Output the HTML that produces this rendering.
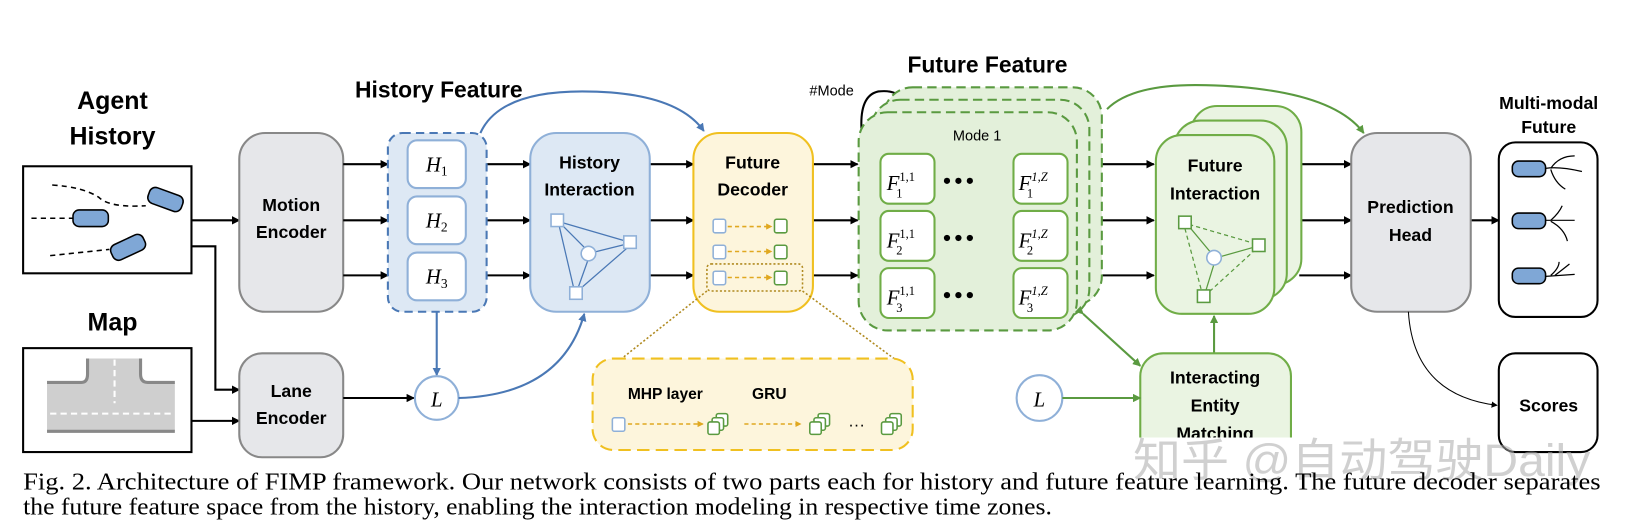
<!DOCTYPE html>
<html><head><meta charset="utf-8"><style>
html,body{margin:0;padding:0;background:#fff;}
svg{display:block}
.b{font-family:"Liberation Sans",sans-serif;font-weight:bold;}
.s{font-family:"Liberation Serif",serif;font-style:italic;}
</style></head><body>
<svg width="1630" height="530" viewBox="0 0 1568 510" xmlns="http://www.w3.org/2000/svg">
<defs>
<marker id="ak" markerWidth="8" markerHeight="8" refX="7" refY="4" orient="auto" markerUnits="userSpaceOnUse"><path d="M0,0 L8,4 L0,8z" fill="#000"/></marker>
<marker id="ab" markerWidth="8" markerHeight="8" refX="7" refY="4" orient="auto" markerUnits="userSpaceOnUse"><path d="M0,0 L8,4 L0,8z" fill="#4a78b5"/></marker>
<marker id="ag" markerWidth="8" markerHeight="8" refX="7" refY="4" orient="auto" markerUnits="userSpaceOnUse"><path d="M0,0 L8,4 L0,8z" fill="#5a9a40"/></marker>
<marker id="ao" markerWidth="6" markerHeight="6" refX="5" refY="3" orient="auto" markerUnits="userSpaceOnUse"><path d="M0,0 L6,3 L0,6z" fill="#e0a820"/></marker>
<marker id="as" markerWidth="6" markerHeight="6" refX="5" refY="3" orient="auto" markerUnits="userSpaceOnUse"><path d="M0,0 L6,3 L0,6z" fill="#000"/></marker>
</defs>

<text class="b" x="108" y="105" font-size="24" text-anchor="middle">Agent</text>
<text class="b" x="108" y="139" font-size="24" text-anchor="middle">History</text>
<rect x="22" y="160" width="162" height="103" fill="#fff" stroke="#000" stroke-width="2"/>
<path d="M50,178 Q80,180 95,190 Q105,200 140,198" fill="none" stroke="#000" stroke-width="1.5" stroke-dasharray="5,4"/>
<path d="M30,210 L70,210" stroke="#000" stroke-width="1.5" stroke-dasharray="5,4"/>
<path d="M48,246 L105,240" stroke="#000" stroke-width="1.5" stroke-dasharray="5,4"/>
<rect x="70" y="202" width="34" height="16" rx="6" fill="#7fa7d6" stroke="#000" stroke-width="1.5"/>
<rect x="142" y="184" width="34" height="16" rx="6" fill="#7fa7d6" stroke="#000" stroke-width="1.5" transform="rotate(20 159 192)"/>
<rect x="106" y="230" width="34" height="16" rx="6" fill="#7fa7d6" stroke="#000" stroke-width="1.5" transform="rotate(-25 123 238)"/>

<text class="b" x="108" y="318" font-size="24" text-anchor="middle">Map</text>
<rect x="22" y="335" width="162" height="100" fill="#fff" stroke="#000" stroke-width="2"/>
<path d="M45,368 L78,368 Q84,368 84,360 L84,345 L135,345 L135,360 Q135,368 142,368 L168,368 L168,415 L45,415z" fill="#cfcfcf"/>
<path d="M45,368 L78,368 Q84,368 84,360 L84,345 M135,345 L135,360 Q135,368 142,368 L168,368 M45,415 L168,415" fill="none" stroke="#888" stroke-width="3"/>
<path d="M110,346 L110,388 M48,398 L168,398" stroke="#fff" stroke-width="2" stroke-dasharray="6,4"/>

<line x1="184" y1="212" x2="230" y2="212" stroke="#000" stroke-width="2" marker-end="url(#ak)"/>
<path d="M184,237 L207,237 L207,375 L230,375" fill="none" stroke="#000" stroke-width="2" marker-end="url(#ak)"/>
<line x1="184" y1="405" x2="230" y2="405" stroke="#000" stroke-width="2" marker-end="url(#ak)"/>

<rect x="230" y="128" width="100" height="172" rx="25" fill="#e6e7ea" stroke="#888" stroke-width="2"/>
<text class="b" x="280" y="203" font-size="17" text-anchor="middle">Motion</text>
<text class="b" x="280" y="229" font-size="17" text-anchor="middle">Encoder</text>
<rect x="230" y="340" width="100" height="100" rx="22" fill="#e6e7ea" stroke="#888" stroke-width="2"/>
<text class="b" x="280" y="382" font-size="17" text-anchor="middle">Lane</text>
<text class="b" x="280" y="408" font-size="17" text-anchor="middle">Encoder</text>

<g stroke="#000" stroke-width="2">
<line x1="330" y1="158" x2="373" y2="158" marker-end="url(#ak)"/>
<line x1="330" y1="212" x2="373" y2="212" marker-end="url(#ak)"/>
<line x1="330" y1="265" x2="373" y2="265" marker-end="url(#ak)"/>
<line x1="330" y1="383" x2="398" y2="383" marker-end="url(#ak)"/>
<line x1="468" y1="158" x2="510" y2="158" marker-end="url(#ak)"/>
<line x1="468" y1="212" x2="510" y2="212" marker-end="url(#ak)"/>
<line x1="468" y1="265" x2="510" y2="265" marker-end="url(#ak)"/>
<line x1="625" y1="158" x2="667" y2="158" marker-end="url(#ak)"/>
<line x1="625" y1="212" x2="667" y2="212" marker-end="url(#ak)"/>
<line x1="625" y1="265" x2="667" y2="265" marker-end="url(#ak)"/>
<line x1="782" y1="158" x2="825" y2="158" marker-end="url(#ak)"/>
<line x1="782" y1="212" x2="825" y2="212" marker-end="url(#ak)"/>
<line x1="782" y1="265" x2="825" y2="265" marker-end="url(#ak)"/>
<line x1="1060" y1="158" x2="1110" y2="158" marker-end="url(#ak)"/>
<line x1="1060" y1="212" x2="1110" y2="212" marker-end="url(#ak)"/>
<line x1="1060" y1="265" x2="1110" y2="265" marker-end="url(#ak)"/>
<line x1="1250" y1="158" x2="1300" y2="158" marker-end="url(#ak)"/>
<line x1="1250" y1="212" x2="1300" y2="212" marker-end="url(#ak)"/>
<line x1="1250" y1="265" x2="1300" y2="265" marker-end="url(#ak)"/>
<line x1="1415" y1="212" x2="1442" y2="212" marker-end="url(#ak)"/>
</g>

<text class="b" x="422" y="94" font-size="22" text-anchor="middle">History Feature</text>
<path d="M462,128 Q480,88 560,88 Q650,88 677,126" fill="none" stroke="#4a78b5" stroke-width="2" marker-end="url(#ab)"/>
<rect x="373" y="128" width="95" height="172" rx="14" fill="#dde8f4" stroke="#4a78b5" stroke-width="2" stroke-dasharray="8,5"/>
<g fill="#fff" stroke="#8fb0d8" stroke-width="2">
<rect x="392" y="135" width="56" height="46" rx="9"/>
<rect x="392" y="189" width="56" height="46" rx="9"/>
<rect x="392" y="243" width="56" height="46" rx="9"/>
</g>
<text class="s" x="420" y="165" font-size="20" text-anchor="middle">H<tspan font-size="13" dy="4" font-style="normal">1</tspan></text>
<text class="s" x="420" y="219" font-size="20" text-anchor="middle">H<tspan font-size="13" dy="4" font-style="normal">2</tspan></text>
<text class="s" x="420" y="273" font-size="20" text-anchor="middle">H<tspan font-size="13" dy="4" font-style="normal">3</tspan></text>
<line x1="420" y1="300" x2="420" y2="361" stroke="#4a78b5" stroke-width="2" marker-end="url(#ab)"/>
<circle cx="420" cy="383" r="21" fill="#fff" stroke="#8fb0d8" stroke-width="2"/>
<text class="s" x="420" y="391" font-size="20" text-anchor="middle">L</text>
<path d="M441,383 Q540,380 562,302" fill="none" stroke="#4a78b5" stroke-width="2" marker-end="url(#ab)"/>

<rect x="510" y="128" width="115" height="172" rx="25" fill="#dde8f4" stroke="#8fb0d8" stroke-width="2"/>
<text class="b" x="567" y="162" font-size="17" text-anchor="middle">History</text>
<text class="b" x="567" y="188" font-size="17" text-anchor="middle">Interaction</text>
<g stroke="#4a78b5" stroke-width="1.2" fill="none">
<line x1="540" y1="214" x2="602" y2="232"/><line x1="538" y1="218" x2="552" y2="278"/><line x1="604" y1="238" x2="558" y2="278"/>
<line x1="540" y1="216" x2="564" y2="240"/><line x1="570" y1="243" x2="602" y2="235"/><line x1="566" y1="249" x2="556" y2="277"/>
</g>
<g fill="#fff" stroke="#8fb0d8" stroke-width="1.5">
<rect x="530" y="206" width="12" height="12"/><rect x="600" y="227" width="12" height="12"/><rect x="548" y="276" width="12" height="12"/><circle cx="566" cy="244" r="7"/>
</g>

<rect x="667" y="128" width="115" height="172" rx="25" fill="#fdf5dc" stroke="#f0c020" stroke-width="2"/>
<text class="b" x="724" y="162" font-size="17" text-anchor="middle">Future</text>
<text class="b" x="724" y="188" font-size="17" text-anchor="middle">Decoder</text>
<g stroke="#e0a820" stroke-width="1.5" stroke-dasharray="4,3">
<line x1="700" y1="218" x2="742" y2="218" marker-end="url(#ao)"/>
<line x1="700" y1="242" x2="742" y2="242" marker-end="url(#ao)"/>
<line x1="700" y1="267" x2="742" y2="267" marker-end="url(#ao)"/>
</g>
<g fill="#fff" stroke-width="1.5">
<rect x="686" y="211" width="12" height="13" rx="2" stroke="#8fb0d8"/><rect x="686" y="236" width="12" height="13" rx="2" stroke="#8fb0d8"/><rect x="686" y="261" width="12" height="13" rx="2" stroke="#8fb0d8"/>
<rect x="745" y="211" width="12" height="13" rx="2" stroke="#5a9a40"/><rect x="745" y="236" width="12" height="13" rx="2" stroke="#5a9a40"/><rect x="745" y="261" width="12" height="13" rx="2" stroke="#5a9a40"/>
</g>
<rect x="680" y="254" width="92" height="26" rx="4" fill="none" stroke="#b08a20" stroke-width="1.5" stroke-dasharray="2,2"/>
<line x1="680" y1="280" x2="598" y2="345" stroke="#b08a20" stroke-width="1.5" stroke-dasharray="2,2"/>
<line x1="772" y1="280" x2="860" y2="345" stroke="#b08a20" stroke-width="1.5" stroke-dasharray="2,2"/>

<rect x="570" y="345" width="308" height="88" rx="20" fill="#fdf5dc" stroke="#f0c020" stroke-width="2" stroke-dasharray="12,6"/>
<text class="b" x="640" y="384" font-size="15" text-anchor="middle">MHP layer</text>
<text class="b" x="740" y="384" font-size="15" text-anchor="middle">GRU</text>
<rect x="589" y="402" width="12" height="13" rx="2" fill="#fff" stroke="#8fb0d8" stroke-width="1.5"/>
<line x1="604" y1="408" x2="676" y2="408" stroke="#e0a820" stroke-width="1.5" stroke-dasharray="4,3" marker-end="url(#ao)"/>
<line x1="716" y1="408" x2="770" y2="408" stroke="#e0a820" stroke-width="1.5" stroke-dasharray="4,3" marker-end="url(#ao)"/>
<g fill="#fff" stroke="#5a9a40" stroke-width="1.5">
<rect x="689" y="398" width="11" height="12" rx="2"/><rect x="685" y="402" width="11" height="12" rx="2"/><rect x="681" y="406" width="11" height="12" rx="2"/>
<rect x="787" y="398" width="11" height="12" rx="2"/><rect x="783" y="402" width="11" height="12" rx="2"/><rect x="779" y="406" width="11" height="12" rx="2"/>
<rect x="856" y="398" width="11" height="12" rx="2"/><rect x="852" y="402" width="11" height="12" rx="2"/><rect x="848" y="406" width="11" height="12" rx="2"/>
</g>
<text x="824" y="414" font-size="16" text-anchor="middle" font-family="Liberation Sans">···</text>

<text class="b" x="950" y="70" font-size="22" text-anchor="middle">Future Feature</text>
<text x="800" y="92" font-size="14" font-family="Liberation Sans" text-anchor="middle">#Mode</text>
<path d="M829,128 Q826,92 845,88 Q862,86 868,96" fill="none" stroke="#000" stroke-width="2"/>
<rect x="850" y="84" width="210" height="210" rx="28" fill="#e3f0da" stroke="#5a9a40" stroke-width="2" stroke-dasharray="9,5"/>
<rect x="838" y="96" width="210" height="210" rx="28" fill="#e3f0da" stroke="#5a9a40" stroke-width="2" stroke-dasharray="9,5"/>
<rect x="826" y="108" width="210" height="210" rx="28" fill="#e3f0da" stroke="#5a9a40" stroke-width="2" stroke-dasharray="9,5"/>
<text x="940" y="135" font-size="14" font-family="Liberation Sans" text-anchor="middle">Mode 1</text>
<g fill="#fff" stroke="#70ad47" stroke-width="2">
<rect x="847" y="148" width="52" height="48" rx="8"/><rect x="847" y="203" width="52" height="48" rx="8"/><rect x="847" y="258" width="52" height="48" rx="8"/>
<rect x="975" y="148" width="52" height="48" rx="8"/><rect x="975" y="203" width="52" height="48" rx="8"/><rect x="975" y="258" width="52" height="48" rx="8"/>
</g>
<g class="s" font-size="20">
<text x="853" y="183">F<tspan font-size="12" font-style="normal" dy="-9">1,1</tspan><tspan font-size="12" font-style="normal" dx="-18" dy="16">1</tspan></text>
<text x="853" y="238">F<tspan font-size="12" font-style="normal" dy="-9">1,1</tspan><tspan font-size="12" font-style="normal" dx="-18" dy="16">2</tspan></text>
<text x="853" y="293">F<tspan font-size="12" font-style="normal" dy="-9">1,1</tspan><tspan font-size="12" font-style="normal" dx="-18" dy="16">3</tspan></text>
<text x="980" y="183">F<tspan font-size="12" dy="-9">1,Z</tspan><tspan font-size="12" font-style="normal" dx="-20" dy="16">1</tspan></text>
<text x="980" y="238">F<tspan font-size="12" dy="-9">1,Z</tspan><tspan font-size="12" font-style="normal" dx="-20" dy="16">2</tspan></text>
<text x="980" y="293">F<tspan font-size="12" dy="-9">1,Z</tspan><tspan font-size="12" font-style="normal" dx="-20" dy="16">3</tspan></text>
</g>
<g fill="#000"><circle cx="911" cy="174" r="3"/><circle cx="922" cy="174" r="3"/><circle cx="933" cy="174" r="3"/>
<circle cx="911" cy="229" r="3"/><circle cx="922" cy="229" r="3"/><circle cx="933" cy="229" r="3"/>
<circle cx="911" cy="284" r="3"/><circle cx="922" cy="284" r="3"/><circle cx="933" cy="284" r="3"/></g>

<path d="M1065,105 Q1090,80 1160,82 Q1280,85 1312,128" fill="none" stroke="#5a9a40" stroke-width="2" marker-end="url(#ag)"/>

<rect x="1146" y="102" width="106" height="172" rx="25" fill="#eaf4e2" stroke="#70ad47" stroke-width="2"/>
<rect x="1130" y="116" width="108" height="172" rx="25" fill="#eaf4e2" stroke="#70ad47" stroke-width="2"/>
<rect x="1112" y="130" width="114" height="172" rx="25" fill="#eaf4e2" stroke="#70ad47" stroke-width="2"/>
<text class="b" x="1169" y="165" font-size="17" text-anchor="middle">Future</text>
<text class="b" x="1169" y="192" font-size="17" text-anchor="middle">Interaction</text>
<g stroke="#5a9a40" stroke-width="1.2" fill="none" stroke-dasharray="4,3">
<line x1="1144" y1="216" x2="1206" y2="234"/><line x1="1140" y1="220" x2="1156" y2="280"/><line x1="1208" y1="240" x2="1162" y2="282"/>
</g>
<g stroke="#5a9a40" stroke-width="1.2"><line x1="1144" y1="218" x2="1164" y2="242"/><line x1="1174" y1="247" x2="1206" y2="238"/><line x1="1168" y1="254" x2="1160" y2="280"/></g>
<g fill="#fff" stroke="#5a9a40" stroke-width="1.5">
<rect x="1134" y="208" width="12" height="12"/><rect x="1205" y="230" width="12" height="12"/><rect x="1152" y="279" width="12" height="12"/>
</g>
<circle cx="1168" cy="248" r="7" fill="#fff" stroke="#8fb0d8" stroke-width="1.5"/>

<line x1="1042" y1="302" x2="1097" y2="352" stroke="#5a9a40" stroke-width="2" marker-end="url(#ag)" marker-start="url(#ag)"/>
<line x1="1168" y1="340" x2="1168" y2="304" stroke="#5a9a40" stroke-width="2" marker-end="url(#ag)"/>
<rect x="1097" y="340" width="145" height="125" rx="22" fill="#eaf4e2" stroke="#70ad47" stroke-width="2"/>
<text class="b" x="1169" y="369" font-size="17" text-anchor="middle">Interacting</text>
<text class="b" x="1169" y="396" font-size="17" text-anchor="middle">Entity</text>
<text class="b" x="1169" y="423" font-size="17" text-anchor="middle">Matching</text>
<rect x="1090" y="421" width="160" height="60" fill="#fff"/>
<circle cx="1000" cy="383" r="22" fill="#fff" stroke="#8fb0d8" stroke-width="2"/>
<text class="s" x="1000" y="391" font-size="20" text-anchor="middle">L</text>
<line x1="1022" y1="383" x2="1097" y2="383" stroke="#5a9a40" stroke-width="2" marker-end="url(#ag)"/>

<rect x="1300" y="128" width="115" height="172" rx="25" fill="#e6e7ea" stroke="#888" stroke-width="2"/>
<text class="b" x="1357" y="205" font-size="17" text-anchor="middle">Prediction</text>
<text class="b" x="1357" y="232" font-size="17" text-anchor="middle">Head</text>
<path d="M1355,300 Q1360,380 1440,390" fill="none" stroke="#000" stroke-width="1" marker-end="url(#as)"/>

<text class="b" x="1490" y="105" font-size="17" text-anchor="middle">Multi-modal</text>
<text class="b" x="1490" y="128" font-size="17" text-anchor="middle">Future</text>
<rect x="1442" y="137" width="95" height="168" rx="16" fill="#fff" stroke="#000" stroke-width="2"/>
<g fill="#7fa7d6" stroke="#000" stroke-width="1.5">
<rect x="1455" y="155" width="32" height="15" rx="6"/><rect x="1455" y="205" width="32" height="15" rx="6"/><rect x="1455" y="258" width="32" height="15" rx="6"/>
</g>
<g stroke="#000" stroke-width="1.2" fill="none">
<path d="M1487,162 Q1500,160 1522,165"/><path d="M1492,162 Q1500,150 1515,150"/><path d="M1492,163 Q1496,176 1506,182"/>
<path d="M1487,212 L1515,212"/><path d="M1492,212 Q1500,205 1503,198"/><path d="M1492,213 Q1505,220 1508,232"/>
<path d="M1487,266 L1515,264"/><path d="M1492,265 Q1500,258 1500,252"/><path d="M1496,265 Q1505,258 1510,254"/>
</g>
<rect x="1442" y="340" width="95" height="95" rx="16" fill="#fff" stroke="#000" stroke-width="2"/>
<text class="b" x="1490" y="396" font-size="17" text-anchor="middle">Scores</text>

<text x="1090" y="458" font-size="44" fill="#aaa" fill-opacity="0.55" font-family="'Liberation Sans','Noto Sans CJK SC',sans-serif" textLength="440" lengthAdjust="spacingAndGlyphs">知乎 @自动驾驶Daily</text>

<text x="22" y="471" font-size="23" font-family="'Liberation Serif',serif" textLength="1518" lengthAdjust="spacingAndGlyphs">Fig. 2.   Architecture of FIMP framework. Our network consists of two parts each for history and future feature learning. The future decoder separates</text>
<text x="22" y="495" font-size="23" font-family="'Liberation Serif',serif" textLength="990" lengthAdjust="spacingAndGlyphs">the future feature space from the history, enabling the interaction modeling in respective time zones.</text>
</svg>
</body></html>
